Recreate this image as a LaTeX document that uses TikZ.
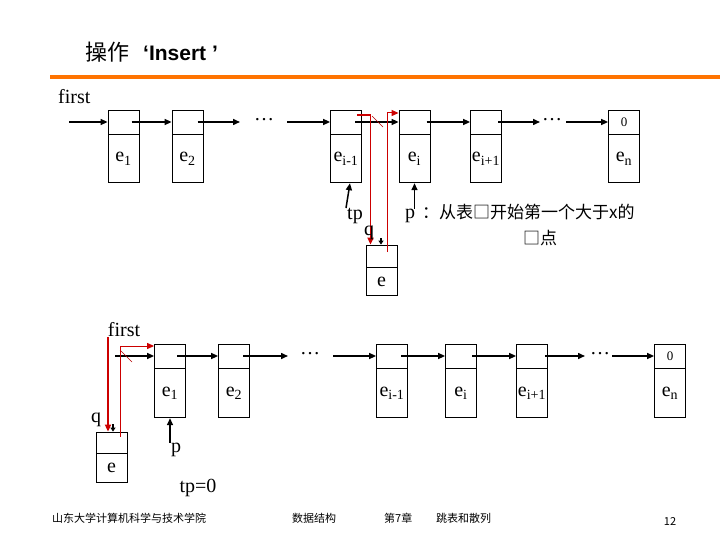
\documentclass[tikz,border=0pt]{standalone}
\usepackage{fontspec}
\setmainfont{Liberation Serif}
\newfontfamily\cjk{Noto Sans CJK SC}
\newfontfamily\hv{Liberation Sans}
\usetikzlibrary{arrows.meta}
\newcommand\lnode[6]{%
 \node[box,minimum height=#4pt] (#1p) at (#2,#3+#4/2) {};
 \node[box,minimum height=#5pt,anchor=north] (#1d) at (#1p.south) {#6};}
\newcommand\sbs[1]{\textsubscript{#1}}
\begin{document}
\begin{tikzpicture}[x=1pt,y=-1pt,
 box/.style={draw,line width=0.8pt,minimum width=31pt,inner sep=0pt,font=\fontsize{20}{22}\selectfont},
 ar/.style={line width=1.5pt,-{Triangle[length=7pt,width=6pt]}},
 rd/.style={draw=red!80!black,line width=1.8pt,-{Triangle[length=7pt,width=6pt]}},
 rt/.style={draw=red!80!black,line width=1pt,-{Triangle[length=7pt,width=6pt]}},
 lab/.style={inner sep=0pt,font=\fontsize{20}{22}\selectfont},
 foot/.style={inner sep=0pt,font=\cjk\fontsize{11}{12}\selectfont}]
\useasboundingbox (0,0) rectangle (720,540);
% title
\node[inner sep=0pt,anchor=west] (title) at (85,52) {{\cjk\fontsize{22}{24}\selectfont 操作}\hspace{1.4em}{\hv\bfseries\fontsize{21}{24}\selectfont ‘Insert ’}};
\draw[orange!90!red,line width=4pt] (50,77) coordinate (ol) -- (720,77) coordinate (or);
% ---------- top row
\node[lab,anchor=west] (first1) at (58,97) {first};
\lnode{a}{123.5}{110}{24}{48}{e\sbs{1}}
\lnode{b}{187.5}{110}{24}{48}{e\sbs{2}}
\lnode{c}{346}{110}{24}{48}{e\sbs{i-1}}
\lnode{d}{414.5}{110}{24}{48}{e\sbs{i}}
\lnode{f}{486}{110}{24}{48}{e\sbs{i+1}}
\lnode{g}{624}{110}{24}{48}{e\sbs{n}}
\node[font=\fontsize{13}{14}\selectfont] at (gp) {0};
\lnode{x}{381.5}{245}{22}{28}{e}
\coordinate (s1) at (69,122);
\draw[ar] (s1) -- (ap.west);
\draw[ar] ([xshift=8pt]ap.center) -- (bp.west);
\coordinate (t1) at (240,122); \coordinate (t2) at (287,122);
\draw[ar] ([xshift=10pt]bp.center) -- (t1);
\node[lab] (dots1) at (264,120) {…};
\draw[ar] (t2) -- (cp.west);
\draw[ar] ([xshift=9pt]cp.center) -- (dp.west);
\draw[red!70!black,line width=0.5pt] (372,116) -- (383,127);
\draw[ar] ([xshift=12pt]dp.center) -- (fp.west);
\coordinate (t3) at (540,122); \coordinate (t4) at (566,122);
\draw[ar] ([xshift=12pt]fp.center) -- (t3);
\node[lab] (dots2) at (552,120) {…};
\draw[ar] (t4) -- (gp.west);
\draw[rd] ([xshift=11pt,yshift=7pt]cp.center) -| ([xshift=-11pt]xp.north);
\draw[rt] ([xshift=6pt,yshift=4pt]xp.center) |- ([yshift=9pt]dp.west);
\node[lab] (tp) at (355,216) {tp};
\draw[ar] (tp.north -| cd.south) -- ([xshift=4pt]cd.south);
\node[lab] (q1) at (369,233) {q};
\draw[line width=1.5pt,-{Triangle[length=4pt,width=5pt]}] (381,238) -- (xp.north -| 381,0);
\node[lab] (p1) at (410,216) {p};
\draw[ar] (p1.north -| dd.south) -- (dd.south);
\node[inner sep=0pt,anchor=west,font=\cjk\fontsize{17}{20}\selectfont] (txt1) at (422,212) {：从表□开始第一个大于x的};
\node[inner sep=0pt,font=\cjk\fontsize{17}{20}\selectfont] (txt2) at (540,238) {□点};
% ---------- bottom row
\node[lab] (first2) at (124,330) {first};
\lnode{A}{170}{344}{24}{49}{e\sbs{1}}
\lnode{B}{234}{344}{24}{49}{e\sbs{2}}
\lnode{C}{392}{344}{24}{49}{e\sbs{i-1}}
\lnode{D}{461}{344}{24}{49}{e\sbs{i}}
\lnode{F}{532}{344}{24}{49}{e\sbs{i+1}}
\lnode{G}{670}{344}{24}{49}{e\sbs{n}}
\node[font=\fontsize{13}{14}\selectfont] at (Gp) {0};
\lnode{X}{111.5}{432}{21}{29}{e}
\coordinate (s2) at (115,356);
\draw[ar] (s2) -- (Ap.west);
\draw[red!70!black,line width=0.5pt] (120,350) -- (132,362);
\draw[ar] ([xshift=7pt]Ap.center) -- (Bp.west);
\coordinate (u1) at (288,356); \coordinate (u2) at (333,356);
\draw[ar] ([xshift=9pt]Bp.center) -- (u1);
\node[lab] (dots3) at (310,354) {…};
\draw[ar] (u2) -- (Cp.west);
\draw[ar] ([xshift=9pt]Cp.center) -- (Dp.west);
\draw[ar] ([xshift=11pt]Dp.center) -- (Fp.west);
\coordinate (u3) at (585,356); \coordinate (u4) at (612,356);
\draw[ar] ([xshift=13pt]Fp.center) -- (u3);
\node[lab] (dots4) at (600,354) {…};
\draw[ar] (u4) -- (Gp.west);
\draw[rd] (first2.south -| 108,0) -- (Xp.north -| 108,0);
\draw[rt] ([xshift=9pt,yshift=6pt]Xp.center) |- ([yshift=10pt]Ap.west);
\node[lab] (q2) at (96,420) {q};
\draw[line width=1.5pt,-{Triangle[length=4pt,width=5pt]}] (113,424) -- (Xp.north -| 113,0);
\node[lab] (p2) at (176,450) {p};
\draw[ar] (p2.north -| Ad.south) -- (Ad.south);
\node[lab] (tp0) at (198,488) {tp=0};
% footer
\node[foot,anchor=west] (f1) at (52,518) {山东大学计算机科学与技术学院};
\node[foot,anchor=west] (f2) at (292,518) {数据结构};
\node[foot,anchor=west] (f3) at (384,518) {第7章};
\node[foot,anchor=west] (f4) at (436,518) {跳表和散列};
\node[foot] (f5) at (670,522) {12};
\end{tikzpicture}
\end{document}
